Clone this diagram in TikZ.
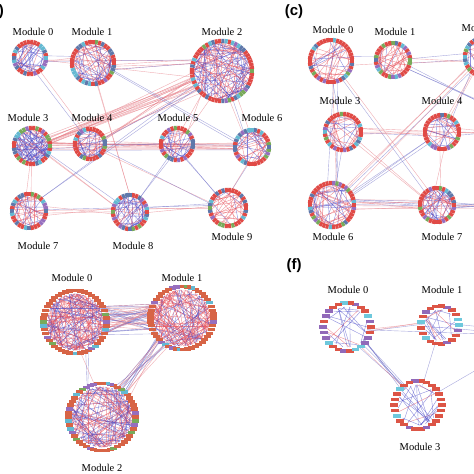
\documentclass[tikz,border=0pt]{standalone}
\usepackage{fontspec}
\setmainfont{Liberation Serif}
\newfontfamily\panelfont{Liberation Sans}
\definecolor{er}{RGB}{224,74,70}
\definecolor{eb}{RGB}{95,120,170}
\definecolor{eg}{RGB}{120,170,90}
\definecolor{ep}{RGB}{150,110,190}
\definecolor{et}{RGB}{100,185,210}
\definecolor{eo}{RGB}{215,100,70}
\definecolor{fr}{RGB}{220,85,70}
\definecolor{fp}{RGB}{145,105,185}
\definecolor{ft}{RGB}{110,200,220}
\definecolor{cr}{RGB}{232,80,90}
\definecolor{cb}{RGB}{70,70,200}
\definecolor{lr}{RGB}{230,120,130}
\definecolor{lb}{RGB}{110,110,200}
\tikzset{
  modc/.style={circle,inner sep=0pt,draw=none},
  sqel/.style={rectangle,inner sep=0pt,minimum width=4.4pt,minimum height=3.1pt},
  barA/.style={rectangle,inner sep=0pt,minimum width=7pt,minimum height=3.3pt},
  barF/.style={rectangle,inner sep=0pt,minimum width=7.8pt,minimum height=3.4pt},
  chord/.style={line width=0.4pt,opacity=0.6},
  link/.style={line width=0.4pt,opacity=0.6},
  modlabel/.style={font=\fontsize{10.5}{12}\selectfont,inner sep=0pt},
  panlabel/.style={font=\panelfont\bfseries\fontsize{15}{17}\selectfont,inner sep=0pt},
}
\newcommand\mkmod[4]{%
  \expandafter\xdef\csname mx#1\endcsname{#2}%
  \expandafter\xdef\csname my#1\endcsname{#3}%
  \node[modc,minimum size={2*#4pt}] (#1) at (#2,#3) {};}
\newcommand\ring[7]{%
  \pgfmathsetseed{#7}%
  \foreach \k in {1,...,#3}{%
    \pgfmathsetmacro\ang{\k*(360/#3)}%
    \pgfmathparse{{#5}[random(0,#6)]}\let\ecol\pgfmathresult
    \path (#1.center) ++(\ang:#2pt) node[#4,fill=\ecol] {};
  }}
\newcommand\chords[4]{%
  \pgfmathsetseed{#4}%
  \foreach \k in {1,...,#2}{%
    \pgfmathtruncatemacro\aa{360*rnd}%
    \pgfmathtruncatemacro\bb{mod(\aa+50+260*rnd,360)}%
    \pgfmathsetmacro\cc{rnd}%
    \ifdim\cc pt<#3pt\def\lc{cb}\else\def\lc{cr}\fi
    \draw[chord,draw=\lc] (#1.\aa) -- (#1.\bb);
  }}
\newcommand\links[6]{%
  \pgfmathsetseed{#4}%
  \pgfmathsetmacro\dirAB{atan2(\csname my#1\endcsname-\csname my#2\endcsname,\csname mx#2\endcsname-\csname mx#1\endcsname)}%
  \foreach \k in {1,...,#3}{%
    \pgfmathtruncatemacro\aa{mod(\dirAB+(rnd-0.5)*#6+720,360)}%
    \pgfmathtruncatemacro\bb{mod(\dirAB+180+(rnd-0.5)*#6+720,360)}%
    \pgfmathsetmacro\cc{rnd}%
    \ifdim\cc pt<#5pt\def\lc{lb}\else\def\lc{lr}\fi
    \draw[link,draw=\lc] (#1.\aa) -- (#2.\bb);
  }}
\def\palB{"er","er","er","er","er","eb","eb","eg","ep","et"}
\def\palC{"er","er","er","er","er","er","et","eb","eg","ep"}
\def\palA{"eo","eo","eo","eo","eo","eo","eo","eo","eo","eo","eo","eo","ep","ep","et","eg"}
\def\palF{"fr","fr","fr","fr","fr","fr","fr","fp","fp","fp","ft"}
\begin{document}
\begin{tikzpicture}[x=1pt,y=-1pt]
\useasboundingbox (0,0) rectangle (474,474);
\fill[white] (0,0) rectangle (474,474);
% ---- panel (b) modules
\mkmod{b0}{30}{58}{14}
\mkmod{b1}{93}{63}{19}
\mkmod{b2}{222}{71}{28}
\mkmod{b3}{32}{146}{16}
\mkmod{b4}{90}{144}{13}
\mkmod{b5}{177}{144}{14}
\mkmod{b6}{252}{147}{15}
\mkmod{b7}{29}{211}{15}
\mkmod{b8}{130}{212}{15}
\mkmod{b9}{228}{208}{16}
% ---- panel (c) modules
\mkmod{c0}{331}{61}{19}
\mkmod{c1}{393}{60}{15}
\mkmod{c2}{484}{57}{17}
\mkmod{c3}{343}{132}{16}
\mkmod{c4}{442}{132}{15}
\mkmod{c5}{545}{132}{16}
\mkmod{c6}{332}{205}{20}
\mkmod{c7}{437}{205}{15}
\mkmod{c8}{545}{205}{16}
% ---- panel (e) modules
\mkmod{a0}{75}{322}{28}
\mkmod{a1}{182}{318}{28}
\mkmod{a2}{102}{417}{30}
% ---- panel (f) modules
\mkmod{f0}{347}{327}{20}
\mkmod{f1}{440}{325}{15}
\mkmod{f3}{418}{405}{20}
\mkmod{f2}{540}{335}{20}
% ---- links
\links{b3}{b2}{14}{101}{0.1}{40}
\links{b3}{b6}{9}{102}{0.1}{30}
\links{b4}{b2}{7}{103}{0.2}{40}
\links{b0}{b2}{3}{104}{0.1}{40}
\links{b1}{b2}{4}{105}{0.3}{40}
\links{b1}{b6}{2}{106}{0.3}{30}
\links{b2}{b6}{3}{107}{0.3}{30}
\links{b2}{b7}{2}{108}{0.5}{30}
\links{b3}{b8}{3}{109}{0.5}{30}
\links{b5}{b8}{2}{110}{0.6}{30}
\links{b5}{b9}{2}{111}{0.4}{30}
\links{b7}{b8}{3}{112}{0.4}{40}
\links{b7}{b9}{2}{113}{0.4}{30}
\links{b8}{b9}{3}{114}{0.4}{40}
\links{b4}{b6}{3}{115}{0.2}{30}
\links{b3}{b5}{3}{116}{0.3}{30}
\links{b1}{b8}{2}{117}{0.5}{30}
\links{b0}{b1}{2}{118}{0.3}{30}
\links{b2}{b5}{3}{119}{0.4}{30}
\links{b3}{b7}{2}{120}{0.3}{30}
\links{b4}{b9}{2}{121}{0.4}{30}
\links{b6}{b9}{2}{122}{0.4}{30}
\links{b0}{b4}{2}{123}{0.3}{30}
\links{c0}{c1}{2}{201}{0.3}{30}
\links{c0}{c7}{2}{202}{0.5}{20}
\links{c0}{c3}{2}{203}{0.4}{30}
\links{c1}{c2}{4}{204}{0.3}{30}
\links{c1}{c5}{3}{205}{0.4}{30}
\links{c3}{c4}{3}{206}{0.4}{30}
\links{c3}{c6}{3}{207}{0.5}{30}
\links{c6}{c7}{8}{208}{0.6}{40}
\links{c6}{c2}{4}{209}{0.5}{30}
\links{c6}{c4}{3}{210}{0.5}{30}
\links{c4}{c2}{3}{211}{0.4}{30}
\links{c7}{c8}{6}{212}{0.6}{40}
\links{c3}{c5}{2}{213}{0.4}{30}
\links{c4}{c5}{3}{214}{0.4}{30}
\links{c0}{c6}{2}{215}{0.5}{30}
\links{c4}{c7}{2}{216}{0.5}{30}
\links{c6}{c8}{3}{217}{0.5}{30}
\links{c3}{c7}{2}{218}{0.5}{30}
\links{a0}{a1}{48}{301}{0.5}{70}
\links{a1}{a2}{16}{302}{0.6}{40}
\links{a0}{a2}{3}{303}{0.5}{30}
\links{f0}{f1}{3}{401}{0.7}{40}
\links{f0}{f3}{7}{402}{0.9}{30}
\links{f1}{f3}{1}{403}{0.9}{30}
\links{f0}{f2}{1}{404}{0.9}{20}
\links{f1}{f2}{2}{405}{0.9}{20}
\links{f3}{f2}{1}{406}{0.9}{20}
% ---- chords
\chords{b0}{35}{0.5}{11}
\chords{b1}{55}{0.55}{12}
\chords{b2}{100}{0.5}{13}
\chords{b3}{70}{0.75}{14}
\chords{b4}{35}{0.6}{15}
\chords{b5}{30}{0.6}{16}
\chords{b6}{35}{0.3}{17}
\chords{b7}{35}{0.3}{18}
\chords{b8}{45}{0.7}{19}
\chords{b9}{30}{0.2}{20}
\chords{c0}{30}{0.3}{21}
\chords{c1}{35}{0.2}{22}
\chords{c2}{20}{0.5}{23}
\chords{c3}{30}{0.3}{24}
\chords{c4}{30}{0.5}{25}
\chords{c6}{50}{0.4}{26}
\chords{c7}{45}{0.6}{27}
\chords{a0}{140}{0.35}{31}
\chords{a1}{120}{0.3}{32}
\chords{a2}{120}{0.5}{33}
\chords{f0}{18}{0.8}{41}
\chords{f1}{18}{0.8}{42}
\chords{f3}{22}{0.85}{43}
% ---- rings
\ring{b0}{16}{30}{sqel,rotate=\ang}{\palB}{9}{51}
\ring{b1}{21}{40}{sqel,rotate=\ang}{\palB}{9}{52}
\ring{b2}{30}{57}{sqel,rotate=\ang}{\palB}{9}{53}
\ring{b3}{18}{34}{sqel,rotate=\ang}{\palB}{9}{54}
\ring{b4}{15}{29}{sqel,rotate=\ang}{\palB}{9}{55}
\ring{b5}{16}{30}{sqel,rotate=\ang}{\palB}{9}{56}
\ring{b6}{17}{32}{sqel,rotate=\ang}{\palB}{9}{57}
\ring{b7}{17}{32}{sqel,rotate=\ang}{\palB}{9}{58}
\ring{b8}{17}{32}{sqel,rotate=\ang}{\palB}{9}{59}
\ring{b9}{18}{34}{sqel,rotate=\ang}{\palB}{9}{60}
\ring{c0}{21}{40}{sqel,rotate=\ang}{\palC}{9}{61}
\ring{c1}{17}{32}{sqel,rotate=\ang}{\palC}{9}{62}
\ring{c2}{19}{36}{sqel,rotate=\ang}{\palC}{9}{63}
\ring{c3}{18}{34}{sqel,rotate=\ang}{\palC}{9}{64}
\ring{c4}{17}{32}{sqel,rotate=\ang}{\palC}{9}{65}
\ring{c6}{22}{42}{sqel,rotate=\ang}{\palC}{9}{66}
\ring{c7}{17}{32}{sqel,rotate=\ang}{\palC}{9}{67}
\ring{a0}{31.5}{50}{barA}{\palA}{15}{71}
\ring{a1}{31.5}{50}{barA}{\palA}{15}{72}
\ring{a2}{33.5}{52}{barA}{\palA}{15}{73}
\ring{f0}{24}{26}{barF}{\palF}{10}{81}
\ring{f1}{19}{21}{barF}{\palF}{10}{82}
\ring{f3}{24}{26}{barF}{\palF}{10}{83}
% ---- labels
\node[panlabel,anchor=east] (lb) at (4,12) {(b)};
\node[panlabel] (lc) at (294,12) {(c)};
\node[panlabel] (lf) at (294,266) {(f)};
\node[modlabel] (tb0) at (33,32) {Module 0};
\node[modlabel] (tb1) at (92,32) {Module 1};
\node[modlabel] (tb2) at (222,32) {Module 2};
\node[modlabel] (tb3) at (28,118) {Module 3};
\node[modlabel] (tb4) at (92,118) {Module 4};
\node[modlabel] (tb5) at (178,118) {Module 5};
\node[modlabel] (tb6) at (262,118) {Module 6};
\node[modlabel] (tb7) at (38,246) {Module 7};
\node[modlabel] (tb8) at (133,246) {Module 8};
\node[modlabel] (tb9) at (232,237) {Module 9};
\node[modlabel] (tc0) at (333,30) {Module 0};
\node[modlabel] (tc1) at (395,32) {Module 1};
\node[modlabel] (tc2) at (482,28) {Module 2};
\node[modlabel] (tc3) at (340,101) {Module 3};
\node[modlabel] (tc4) at (442,101) {Module 4};
\node[modlabel] (tc6) at (333,237) {Module 6};
\node[modlabel] (tc7) at (442,237) {Module 7};
\node[modlabel] (ta0) at (72,278) {Module 0};
\node[modlabel] (ta1) at (182,278) {Module 1};
\node[modlabel] (ta2) at (102,468) {Module 2};
\node[modlabel] (tf0) at (348,290) {Module 0};
\node[modlabel] (tf1) at (442,290) {Module 1};
\node[modlabel] (tf3) at (420,447) {Module 3};
\end{tikzpicture}
\end{document}
